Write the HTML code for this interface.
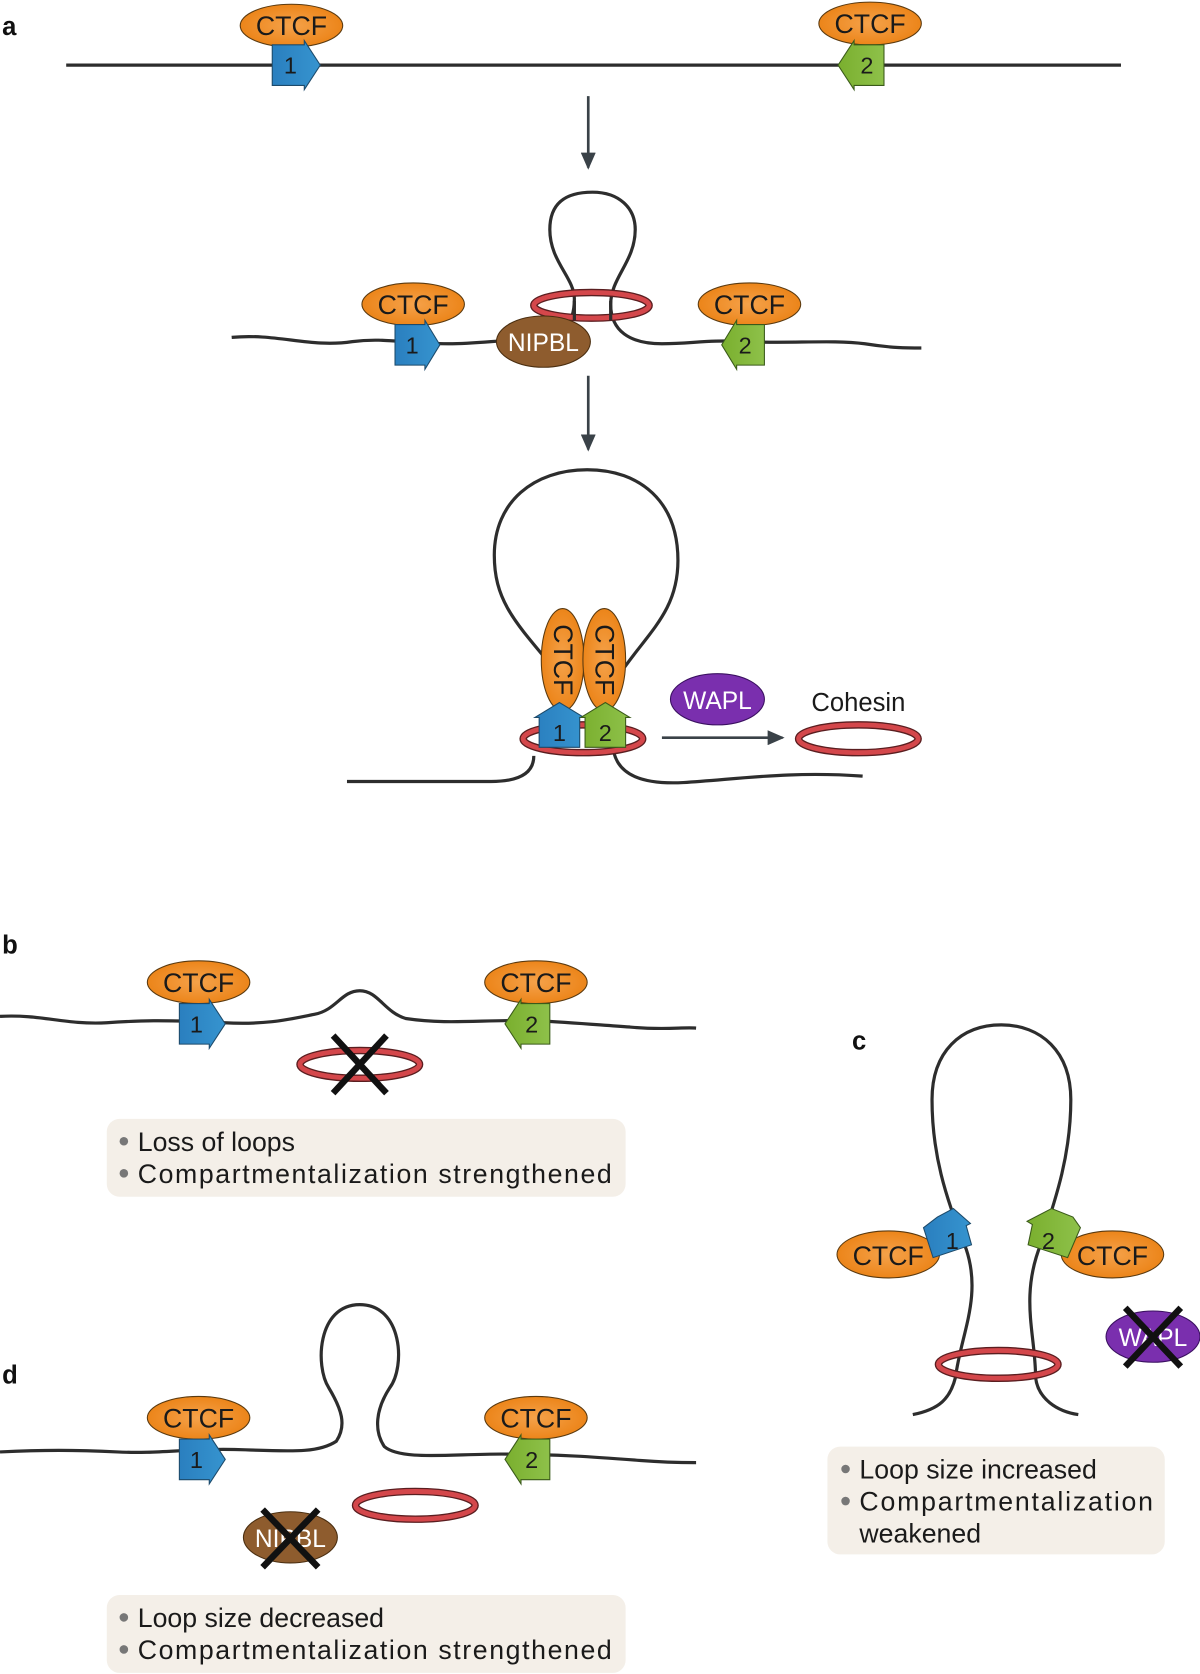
<!DOCTYPE html>
<html><head><meta charset="utf-8"><style>
html,body{margin:0;padding:0;background:#fff}
svg{display:block}
text{font-family:"Liberation Sans","DejaVu Sans",sans-serif}
</style></head><body>
<svg width="1200" height="1674" viewBox="0 0 1124 1568" xmlns="http://www.w3.org/2000/svg">
<defs>
<radialGradient id="og" cx="50%" cy="50%" r="60%"><stop offset="0" stop-color="#f5a24a"/><stop offset="1" stop-color="#ea7f10"/></radialGradient>
<linearGradient id="bg" x1="0" x2="1"><stop offset="0" stop-color="#2a7fbf"/><stop offset="1" stop-color="#3694cf"/></linearGradient>
<linearGradient id="gg" x1="0" x2="1"><stop offset="0" stop-color="#7aaf2e"/><stop offset="1" stop-color="#8ec14a"/></linearGradient>
<marker id="ah" markerWidth="16" markerHeight="14" refX="14" refY="7" orient="auto" markerUnits="userSpaceOnUse"><path d="M0,0 L16,7 L0,14 z" fill="#3a4248"/></marker>
</defs>
<g fill="none" stroke="#2d2d2d" stroke-width="3">
<line x1="62" y1="61" x2="1050" y2="61"/>
<path d="M217,316 C260,312 290,326 330,320 C360,316 380,322 420,322 C450,322 470,318 500,318 C525,318 538,305 538,280 C538,260 515,245 515,215 C515,190 530,180 555,180 C580,180 595,195 595,215 C595,245 572,260 572,285 C572,310 590,322 620,322 C650,322 660,318 700,320 C740,322 780,318 810,322 C835,326 850,326 863,326"/>
<path d="M325,732 L460,732 C490,732 500,722 500,708"/>
<path d="M575,705 C580,725 600,735 640,733 C690,730 740,722 808,727"/>
<path d="M512,618 C480,580 463,560 463,520 C463,470 500,440 550,440 C600,440 635,470 635,525 C635,570 610,590 585,625"/>
<path d="M0,952 C40,950 60,960 100,958 C130,956 150,955 210,958 C250,960 270,955 295,950 C315,946 320,928 337,928 C354,928 360,948 380,954 C420,960 450,955 500,956 C540,958 560,960 590,962 C620,965 640,962 652,963"/>
<path d="M855,1325 C880,1320 890,1310 895,1290 C900,1250 920,1215 905,1170 C885,1120 873,1080 873,1030 C873,985 900,960 938,960 C975,960 1003,985 1003,1030 C1003,1080 990,1120 975,1165 C955,1215 970,1250 970,1290 C972,1310 990,1322 1010,1325"/>
<path d="M0,1360 C40,1358 70,1358 110,1360 C150,1362 180,1356 230,1358 C280,1360 300,1360 315,1350 C325,1335 320,1320 308,1300 C295,1280 297,1222 337,1222 C377,1222 380,1280 365,1300 C352,1320 350,1340 360,1355 C375,1368 420,1362 470,1362 C520,1362 560,1365 600,1368 C625,1370 640,1370 652,1370"/>
</g>
<g stroke="#3a4248" stroke-width="2.5" marker-end="url(#ah)">
<line x1="551" y1="90" x2="551" y2="157"/>
<line x1="551" y1="352" x2="551" y2="421"/>
<line x1="620" y1="691" x2="733" y2="691"/>
</g>
<g fill="none">
<g stroke="#5a1e20" stroke-width="7">
<ellipse cx="554" cy="286" rx="54" ry="12"/><ellipse cx="546" cy="692" rx="56" ry="13"/><ellipse cx="804" cy="692" rx="56" ry="13"/><ellipse cx="337" cy="997" rx="56" ry="13"/><ellipse cx="935" cy="1278" rx="56" ry="13"/><ellipse cx="389" cy="1410" rx="56" ry="13"/>
</g>
<g stroke="#d4474b" stroke-width="4.5">
<ellipse cx="554" cy="286" rx="54" ry="12"/><ellipse cx="546" cy="692" rx="56" ry="13"/><ellipse cx="804" cy="692" rx="56" ry="13"/><ellipse cx="337" cy="997" rx="56" ry="13"/><ellipse cx="935" cy="1278" rx="56" ry="13"/><ellipse cx="389" cy="1410" rx="56" ry="13"/>
</g>
</g>
<g fill="none" stroke="#2d2d2d" stroke-width="3"><path d="M538,282 L538,300"/><path d="M572,282 L572,300"/></g>
<g fill="url(#og)" stroke="#5a3a10" stroke-width="1">
<ellipse cx="273" cy="24" rx="48" ry="20"/><ellipse cx="815" cy="22" rx="48" ry="20"/>
<ellipse cx="387" cy="285" rx="48" ry="20"/><ellipse cx="702" cy="285" rx="48" ry="20"/>
<ellipse cx="186" cy="920" rx="48" ry="20"/><ellipse cx="502" cy="920" rx="48" ry="20"/>
<ellipse cx="832" cy="1175" rx="48" ry="22"/><ellipse cx="1042" cy="1175" rx="48" ry="22"/>
<ellipse cx="186" cy="1328" rx="48" ry="20"/><ellipse cx="502" cy="1328" rx="48" ry="20"/>
<ellipse cx="527" cy="618" rx="20" ry="48"/><ellipse cx="566" cy="618" rx="20" ry="48"/>
</g>
<g fill="url(#bg)" stroke="#1d4a6a" stroke-width="1">
<polygon points="255,42 285,42 285,38 300,61 285,84 285,80 255,80"/>
<polygon points="370,304 398,304 398,300 412,323 398,346 398,342 370,342"/>
<polygon points="168,940 196,940 196,936 211,959 196,982 196,978 168,978"/>
<polygon points="168,1348 196,1348 196,1344 211,1367 196,1390 196,1386 168,1386"/>
<polygon points="505,700 505,672 501,672 524,658 547,672 543,672 543,700"/>
<polygon points="874,1178 865,1150 878,1140 893,1132 909,1146 905,1148 910,1166"/>
</g>
<g fill="url(#gg)" stroke="#3a5a1a" stroke-width="1">
<polygon points="828,42 800,42 800,38 785,61 800,84 800,80 828,80"/>
<polygon points="716,304 690,304 690,300 676,323 690,346 690,342 716,342"/>
<polygon points="515,940 488,940 488,936 473,959 488,982 488,978 515,978"/>
<polygon points="515,1348 488,1348 488,1344 473,1367 488,1390 488,1386 515,1386"/>
<polygon points="548,700 548,672 544,672 567,658 590,672 586,672 586,700"/>
<polygon points="1000,1178 1012,1150 1005,1140 985,1132 962,1144 967,1147 963,1166"/>
</g>
<ellipse cx="509" cy="320" rx="44" ry="24" fill="#8e5c2e" stroke="#4a2e10"/>
<ellipse cx="272" cy="1440" rx="44" ry="24" fill="#8e5c2e" stroke="#4a2e10"/>
<ellipse cx="672" cy="655" rx="44" ry="24" fill="#7a2fae" stroke="#3a1060"/>
<ellipse cx="1080" cy="1252" rx="44" ry="24" fill="#7a2fae" stroke="#3a1060"/>
<g font-size="25" fill="#1a1a1a" text-anchor="middle">
<text x="273" y="33">CTCF</text><text x="815" y="31">CTCF</text>
<text x="387" y="294">CTCF</text><text x="702" y="294">CTCF</text>
<text x="186" y="929">CTCF</text><text x="502" y="929">CTCF</text>
<text x="832" y="1185">CTCF</text><text x="1042" y="1185">CTCF</text>
<text x="186" y="1337">CTCF</text><text x="502" y="1337">CTCF</text>
<text transform="translate(519,618) rotate(90)">CTCF</text>
<text transform="translate(558,618) rotate(90)">CTCF</text>
<g font-size="22"><text x="272" y="69">1</text><text x="812" y="69">2</text>
<text x="386" y="331">1</text><text x="698" y="331">2</text>
<text x="184" y="967">1</text><text x="498" y="967">2</text>
<text x="184" y="1375">1</text><text x="498" y="1375">2</text>
<text x="524" y="694">1</text><text x="567" y="694">2</text>
<text x="892" y="1170">1</text><text x="982" y="1170">2</text></g>
<text x="804" y="666" font-size="24">Cohesin</text>
</g>
<g font-size="23" fill="#fff" text-anchor="middle">
<text x="509" y="329">NIPBL</text><text x="272" y="1449">NIPBL</text>
<text x="672" y="664">WAPL</text><text x="1080" y="1261">WAPL</text>
</g>
<g stroke="#111" stroke-width="6">
<line x1="312" y1="970" x2="362" y2="1024"/><line x1="362" y1="970" x2="312" y2="1024"/>
<line x1="246" y1="1414" x2="298" y2="1468"/><line x1="298" y1="1414" x2="246" y2="1468"/>
<line x1="1054" y1="1225" x2="1106" y2="1280"/><line x1="1106" y1="1225" x2="1054" y2="1280"/>
</g>
<g font-size="24" font-weight="bold" fill="#111">
<text x="2" y="33">a</text><text x="2" y="893">b</text><text x="798" y="983">c</text><text x="2" y="1296">d</text>
</g>
<g fill="#f4efe8">
<rect x="100" y="1048" width="486" height="73" rx="12"/>
<rect x="775" y="1355" width="316" height="101" rx="12"/>
<rect x="100" y="1494" width="486" height="73" rx="12"/>
</g>
<g fill="#777"><circle cx="116" cy="1069" r="4"/><circle cx="116" cy="1099" r="4"/>
<circle cx="792" cy="1376" r="4"/><circle cx="792" cy="1406" r="4"/>
<circle cx="116" cy="1515" r="4"/><circle cx="116" cy="1545" r="4"/></g>
<g font-size="25" fill="#1a1a1a">
<text x="129" y="1078">Loss of loops</text><text x="129" y="1108" textLength="444">Compartmentalization strengthened</text>
<text x="805" y="1385">Loop size increased</text><text x="805" y="1415" textLength="275">Compartmentalization</text><text x="805" y="1445">weakened</text>
<text x="129" y="1524">Loop size decreased</text><text x="129" y="1554" textLength="444">Compartmentalization strengthened</text>
</g>
</svg>
</body></html>
